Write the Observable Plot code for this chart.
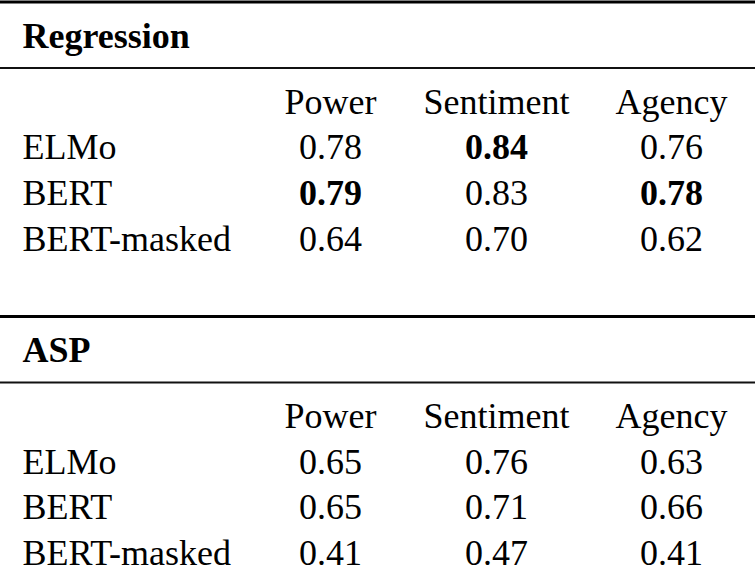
<!DOCTYPE html>
<html>
<head>
<meta charset="utf-8">
<script src="https://cdn.jsdelivr.net/npm/d3@7"></script>
<script src="https://cdn.jsdelivr.net/npm/@observablehq/plot@0.6"></script>
<style>
  html, body { margin: 0; padding: 0; background: #fff; font-family: "Liberation Serif", "Times New Roman", serif; }
  #chart svg, #chart svg text { font-family: "Liberation Serif", "Times New Roman", serif !important; }
</style>
</head>
<body>
<div id="chart"></div>
<script>
// ---- data ----
const columns = ["Power", "Sentiment", "Agency"];
const models = ["ELMo", "BERT", "BERT-masked"];
const sectionTitles = ["Regression", "ASP"];
const regressionValues = [
  [0.78, 0.84, 0.76],
  [0.79, 0.83, 0.78],
  [0.64, 0.70, 0.62]
];
const aspValues = [
  [0.65, 0.76, 0.63],
  [0.65, 0.71, 0.66],
  [0.41, 0.47, 0.41]
];
const boldBestInSection = [true, false];

// ---- layout ----
const W = 755, H = 570;
const sectionTop = [0, 314.5];
const labelX = 22;
const colX = [330, 496, 671];
const L = {thick: 1.5, title: 47, thin: 67.5, header: 113, row0: 158.5, rowStep: 45.8};
const fmt = d3.format(".2f");

const sections = sectionTitles.map((title, s) => ({
  title, top: sectionTop[s],
  values: s === 0 ? regressionValues : aspValues,
  boldBest: boldBestInSection[s]
}));

const thickRules = [], thinRules = [], titles = [], leftCells = [], centerCells = [], boldCells = [];
for (const sec of sections) {
  thickRules.push(sec.top + L.thick);
  thinRules.push(sec.top + L.thin);
  titles.push({x: labelX, y: sec.top + L.title, label: sec.title});
  columns.forEach((c, j) => centerCells.push({x: colX[j], y: sec.top + L.header, label: c}));
  const best = columns.map((c, j) => d3.max(sec.values, r => r[j]));
  models.forEach((m, i) => {
    const y = sec.top + L.row0 + i * L.rowStep;
    leftCells.push({x: labelX, y, label: m});
    sec.values[i].forEach((v, j) => {
      const cell = {x: colX[j], y, label: fmt(v)};
      if (sec.boldBest && v === best[j]) boldCells.push(cell); else centerCells.push(cell);
    });
  });
}

const serif = "Liberation Serif, Times New Roman, serif";
const fsz = 36;

const chart = Plot.plot({
  width: W, height: H, margin: 0,
  x: {domain: [0, W], range: [0, W], axis: null},
  y: {domain: [0, H], range: [0, H], axis: null},
  style: {fontFamily: serif},
  marks: [
    Plot.ruleY(thickRules, {y: d => d, stroke: "#000", strokeWidth: 3}),
    Plot.ruleY(thinRules, {y: d => d, stroke: "#111", strokeWidth: 1.8}),
    Plot.text(titles, {x: "x", y: "y", text: "label", textAnchor: "start", lineAnchor: "bottom",
      fontSize: fsz, fontWeight: "bold", fill: "#000", fontFamily: serif}),
    Plot.text(leftCells, {x: "x", y: "y", text: "label", textAnchor: "start", lineAnchor: "bottom",
      fontSize: fsz, fill: "#000", fontFamily: serif}),
    Plot.text(centerCells, {x: "x", y: "y", text: "label", textAnchor: "middle", lineAnchor: "bottom",
      fontSize: fsz, fill: "#000", fontFamily: serif}),
    Plot.text(boldCells, {x: "x", y: "y", text: "label", textAnchor: "middle", lineAnchor: "bottom",
      fontSize: fsz, fontWeight: "bold", fill: "#000", fontFamily: serif})
  ]
});
chart.setAttribute("font-family", serif);
d3.select(chart).selectAll("g").attr("font-family", serif);
d3.select(chart).selectAll("text").attr("font-family", serif).style("font-family", serif);
document.getElementById("chart").appendChild(chart);
</script>
</body>
</html>
